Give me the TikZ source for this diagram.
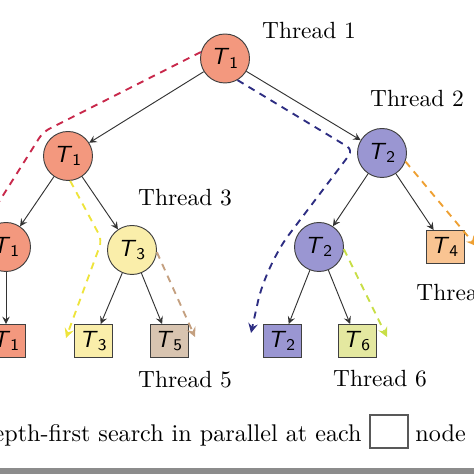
\documentclass[tikz,border=0pt]{standalone}
\usepackage{amssymb}
\usepackage{amsmath}
\usetikzlibrary{arrows}

\definecolor{cone}{RGB}{243,152,126}
\definecolor{ctwo}{RGB}{154,150,210}
\definecolor{cthree}{RGB}{250,238,170}
\definecolor{cfour}{RGB}{249,196,146}
\definecolor{cfive}{RGB}{216,196,176}
\definecolor{csix}{RGB}{228,232,160}
\definecolor{wred}{RGB}{200,40,75}
\definecolor{wblue}{RGB}{45,45,130}
\definecolor{wyellow}{RGB}{238,228,60}
\definecolor{worange}{RGB}{238,160,50}
\definecolor{wtan}{RGB}{196,160,128}
\definecolor{wgreen}{RGB}{200,222,70}

\newcommand{\tsk}[1]{\textsf{\textit{T}}$_{\textsf{#1}}$}

\begin{document}
\begin{tikzpicture}[x=0.15cm, y=0.15cm, >=stealth,
  tnode/.style={draw=black!75, circle, minimum size=0.735cm, inner sep=0pt},
  tleaf/.style={draw=black!75, rectangle, minimum width=0.57cm, minimum height=0.495cm, inner sep=0pt},
  edge/.style={draw=black!80, ->},
  walk/.style={draw, line width=0.8pt, dashed, dash pattern=on 3pt off 2.5pt, ->, rounded corners=3pt}]
\useasboundingbox (0,0) rectangle (47.4,47.4);
\clip (0,0) rectangle (47.4,47.4);

\node[tnode, fill=cone] (r) at (22.5,41.55) {\tsk{1}};
\node[tnode, fill=cone] (a1) at (6.8,31.8) {\tsk{1}};
\node[tnode, fill=ctwo] (a2) at (38.2,32.1) {\tsk{2}};
\node[tnode, fill=cone] (b1) at (0.6,22.7) {\tsk{1}};
\node[tnode, fill=cthree] (b3) at (13.2,22.4) {\tsk{3}};
\node[tnode, fill=ctwo] (b2) at (31.9,22.7) {\tsk{2}};
\node[tleaf, fill=cfour] (b4) at (44.5,22.7) {\tsk{4}};
\node[tleaf, fill=cone] (c1) at (0.6,13.3) {\tsk{1}};
\node[tleaf, fill=cthree] (c3) at (9.35,13.3) {\tsk{3}};
\node[tleaf, fill=cfive] (c5) at (16.9,13.3) {\tsk{5}};
\node[tleaf, fill=ctwo] (c2) at (28.2,13.3) {\tsk{2}};
\node[tleaf, fill=csix] (c6) at (35.7,13.3) {\tsk{6}};

\node (t1) at (30.9,44.3) {Thread 1};
\node (t2) at (41.7,37.5) {Thread 2};
\node (t3) at (18.5,27.6) {Thread 3};
\node[anchor=west, inner sep=0pt] (t4) at (41.6,18.1) {Thread 4};
\node (t5) at (18.5,9.4) {Thread 5};
\node (t6) at (38.0,9.5) {Thread 6};

\path[edge] (r) -- (a1);
\path[edge] (r) -- (a2);
\path[edge] (a1) -- (b1);
\path[edge] (a1) -- (b3);
\path[edge] (a2) -- (b2);
\path[edge] (a2) -- (b4);
\path[edge] (b1) -- (c1);
\path[edge] (b3) -- (c3);
\path[edge] (b3) -- (c5);
\path[edge] (b2) -- (c2);
\path[edge] (b2) -- (c6);

% threads
\coordinate (w1) at (-3,12);
\coordinate (w2) at (25.1,14.1);
\coordinate (w3) at (6.6,13.6);
\coordinate (w4) at (47.6,22.8);
\coordinate (w5) at (19.5,13.7);
\coordinate (w6) at (38.7,13.7);
\path[walk, wred] (r.165) -- (4.3,34.2) -- (-1.5,25) -- (w1);
\path[walk, wblue] (r.-60) -- (35.3,32.4) [rounded corners=16pt] -- (26.6,20.9) -- (w2);
\path[walk, wyellow] (a1.-85) -- (10.2,23.4) -- (w3);
\path[walk, worange] (a2.-20) -- (w4);
\path[walk, wtan] (b3.-5) -- (w5);
\path[walk, wgreen] (b2.-5) -- (w6);

\node[anchor=base east, inner sep=0pt, font=\fontsize{10.3}{12}\selectfont] (cap) at (36.2,3.2) {Depth-first search in parallel at each};
\node[draw=black!65, thick, minimum width=0.57cm, minimum height=0.495cm, inner sep=0pt] (key) at (38.9,4.25) {};
\node[anchor=base west, inner sep=0pt, font=\fontsize{10.3}{12}\selectfont] (nd) at (41.5,3.2) {node};

\fill[black!45] (0,0) rectangle (47.4,0.55);
\end{tikzpicture}
\end{document}
